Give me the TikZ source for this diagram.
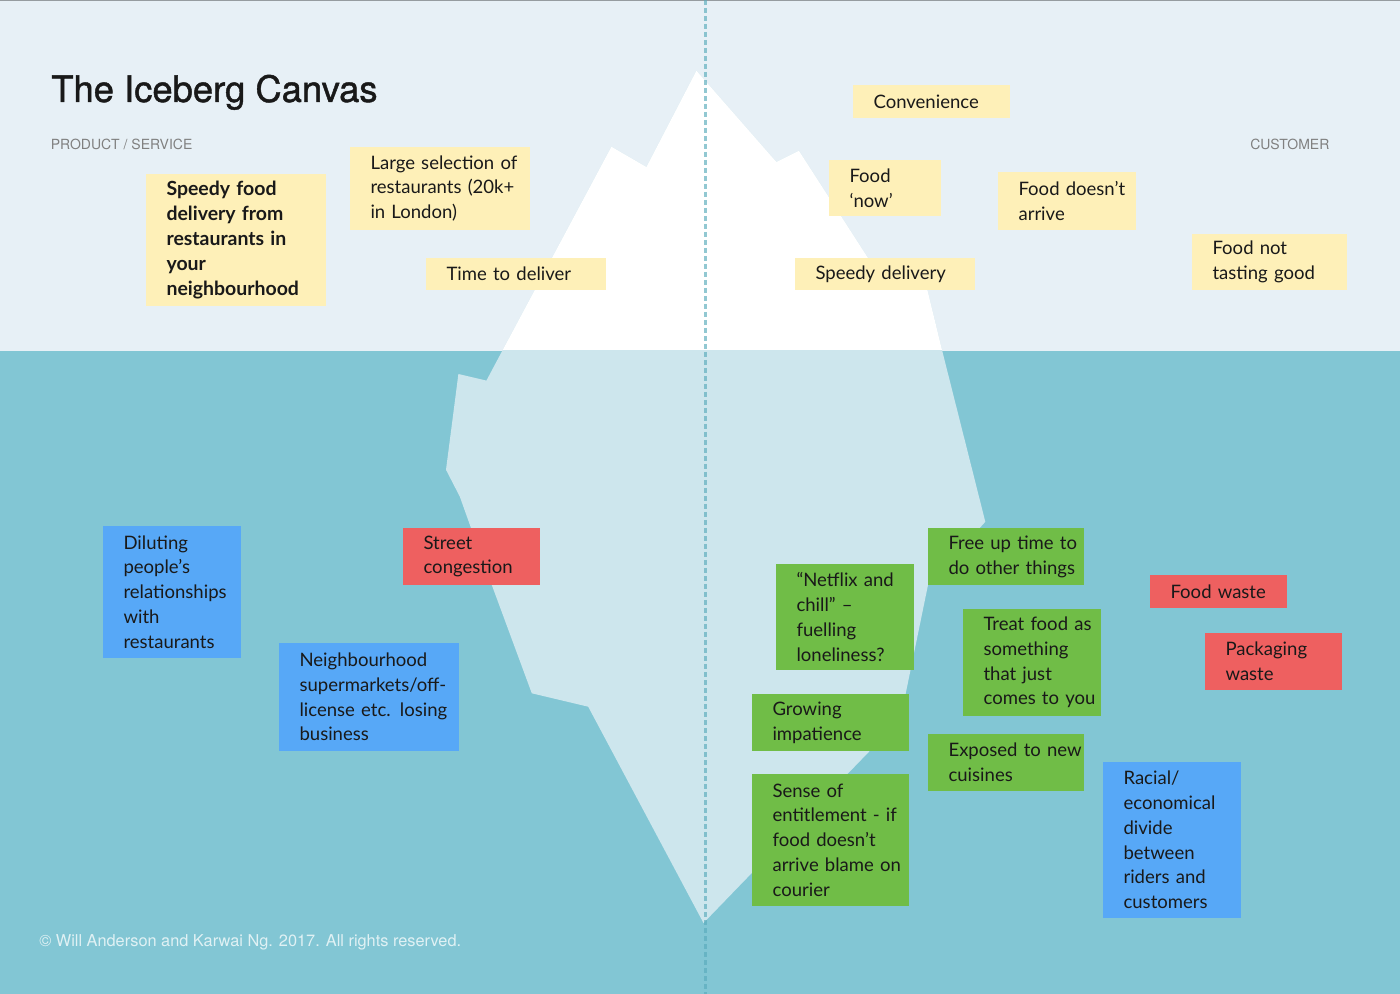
\documentclass[tikz,border=0pt]{standalone}
\usepackage{fontspec}
\setmainfont{Lato}
\newfontfamily\headfont{TeX Gyre Heros}
\newfontfamily\titlefont[FakeBold=1.2]{TeX Gyre Heros}
\usetikzlibrary{positioning}

\definecolor{skyblue}{RGB}{231,240,246}
\definecolor{waterblue}{RGB}{130,198,212}
\definecolor{icebelow}{RGB}{205,230,237}
\definecolor{noteyellow}{RGB}{254,240,184}
\definecolor{notegreen}{RGB}{112,189,71}
\definecolor{notered}{RGB}{238,96,96}
\definecolor{noteblue}{RGB}{87,168,247}

\tikzset{
  note/.style={anchor=north west,outer sep=0pt,inner xsep=15.4pt,inner ysep=0pt,align=left,
    text=black!90,font=\fontsize{13.9}{18.6}\selectfont,execute at begin node={\rightskip=-30pt\relax}},
  size/.style 2 args={text width=#1*0.75pt-30.8pt,minimum height=#2*0.75pt},
  yellownote/.style={note,fill=noteyellow},
  greennote/.style={note,fill=notegreen},
  rednote/.style={note,fill=notered},
  bluenote/.style={note,fill=noteblue},
  smallcaption/.style={anchor=north west,inner sep=0pt,text=black!50,font=\headfont\fontsize{10.5}{13}\selectfont},
}
\newcommand{\icebergpath}{(696.4,70.7) -- (776.4,162) -- (798.9,150.7) -- (868,258) -- (925,280) -- (942,350)
  -- (985.3,521.8) -- (928,585) -- (905.6,694) -- (870,750.7) -- (703.5,923) -- (588.2,706.7) -- (531.8,693.3)
  -- (491.8,585) -- (471,528) -- (459.8,496.6) -- (446,469.8) -- (458.4,374) -- (486.4,380.6) -- (502.7,350)
  -- (611.4,146.7) -- (646.4,167) -- cycle}
\newcommand{\boldline}[1]{{\fontsize{14.6}{18.6}\selectfont\textbf{#1}}}

\begin{document}
\begin{tikzpicture}[x=0.75pt,y=0.75pt,yscale=-1,xscale=1]
\useasboundingbox (0,0) rectangle (1400,994);

%Background
\fill [skyblue] (0,0) rectangle (1400,351);
\fill [waterblue] (0,351) rectangle (1400,994);
\fill [black!35!skyblue] (0,0) rectangle (1400,1);

%Iceberg
\fill [icebelow] \icebergpath;
\begin{scope}
\clip (0,0) rectangle (1400,350);
\fill [white] \icebergpath;
\end{scope}

%Divider
\coordinate (divtop) at (705.5,0);
\coordinate (divbottom) at (705.5,994);
\draw [color={rgb, 255:red, 90; green, 172; blue, 188},opacity=0.66,line width=1.7pt,dash pattern=on 3.5pt off 2.5pt] (divtop) -- (divbottom);

% Text Node
\node (title) [anchor=north west,inner sep=0pt,text=black!90,font=\titlefont\fontsize{27.3}{32}\selectfont] at (51,74.5) {The Iceberg Canvas};
% Text Node
\node (product) [smallcaption] at (50.5,139) {PRODUCT / SERVICE};
% Text Node
\node (customer) [smallcaption] at (1250,139) {CUSTOMER};
% Text Node
\node (rights) [anchor=north west,inner sep=0pt,text=white!75!waterblue,font=\headfont\fontsize{12.25}{15}\selectfont] at (39,934) {© Will Anderson and Karwai Ng. 2017. All rights reserved.};

%Product notes
\node (speedyfood) [yellownote,size={180}{132}] at (146,174) {\boldline{Speedy food}\\\boldline{delivery from}\\\boldline{restaurants in}\\\boldline{your}\\\boldline{neighbourhood}};
\node (selection) [yellownote,size={180}{83}] at (350,147) {Large selection of\\restaurants (20k+\\in London)};
\node (timedeliver) [yellownote,size={180}{32}] at (426,258) {Time to deliver};

%Customer notes
\node (convenience) [yellownote,size={157}{33}] at (853,85) {Convenience};
\node (foodnow) [yellownote,size={112}{56}] at (829,160) {Food\\‘now’};
\node (noarrive) [yellownote,size={138}{58}] at (998,172) {Food doesn’t\\arrive};
\node (speedydel) [yellownote,size={180}{32}] at (795,258) {Speedy delivery};
\node (nottasting) [yellownote,size={155}{56}] at (1192,234) {Food not\\tasting good};

%Hidden product notes
\node (diluting) [bluenote,size={138}{132}] at (103,526) {Diluting\\people’s\\relationships\\with\\restaurants};
\node (supermarkets) [bluenote,size={180}{108}] at (279,643) {Neighbourhood\\supermarkets/off-\\license etc. losing\\business};
\node (congestion) [rednote,size={137}{57}] at (403,528) {Street\\congestion};

%Hidden customer notes
\node (freetime) [greennote,size={156}{57}] at (928,528) {Free up time to\\do other things};
\node (netflix) [greennote,size={138}{106}] at (776,564) {“Netflix and\\chill” –\\fuelling\\loneliness?};
\node (treatfood) [greennote,size={138}{107}] at (963,609) {Treat food as\\something\\that just\\comes to you};
\node (impatience) [greennote,size={157}{57}] at (752,694) {Growing\\impatience};
\node (cuisines) [greennote,size={156}{57}] at (928,734) {Exposed to new\\cuisines};
\node (entitlement) [greennote,size={157}{132}] at (752,774) {Sense of\\entitlement - if\\food doesn’t\\arrive blame on\\courier};
\node (racial) [bluenote,size={138}{156}] at (1103,762) {Racial/\\economical\\divide\\between\\riders and\\customers};
\node (foodwaste) [rednote,size={137}{33}] at (1150,575) {Food waste};
\node (packaging) [rednote,size={137}{57}] at (1205,633) {Packaging\\waste};

\end{tikzpicture}
\end{document}
